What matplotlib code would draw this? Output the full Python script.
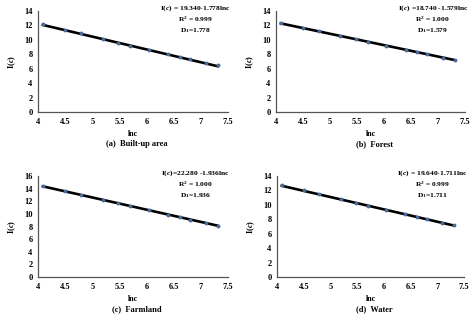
import matplotlib
matplotlib.use("Agg")
import matplotlib.pyplot as plt
import numpy as np

plt.rcParams['font.family'] = ['Liberation Serif', 'DejaVu Serif']
plt.rcParams['font.weight'] = 'bold'
plt.rcParams['mathtext.fontset'] = 'custom'
plt.rcParams['mathtext.rm'] = 'Liberation Serif:bold'
plt.rcParams['mathtext.it'] = 'Liberation Serif:italic:bold'
plt.rcParams['mathtext.bf'] = 'Liberation Serif:bold'

lnc = [4.09, 4.50, 4.79, 5.19, 5.48, 5.70, 6.04, 6.40, 6.62, 6.80, 7.09, 7.31]

built_up = [12.2, 11.4, 10.9, 10.15, 9.6, 9.2, 8.6, 8.0, 7.6, 7.3, 6.8, 6.45]
forest = [12.35, 11.7, 11.2, 10.6, 10.1, 9.75, 9.2, 8.65, 8.3, 8.0, 7.55, 7.25]
farmland = [14.4, 13.6, 13.05, 12.25, 11.7, 11.25, 10.6, 9.9, 9.45, 9.1, 8.55, 8.15]
water = [12.7, 12.0, 11.45, 10.8, 10.3, 9.9, 9.35, 8.7, 8.35, 8.0, 7.55, 7.15]

intercepts = [19.340, 18.740, 22.280, 19.640]
slopes = [1.778, 1.579, 1.936, 1.711]
r2 = ["0.999", "1.000", "1.000", "0.999"]
eq_text = ["I($c$) = 19.340-1.778lnc", "I($c$) =18.740 -1.579lnc",
           "I($c$)=22.280 -1.936lnc", "I($c$) = 19.640-1.711lnc"]
captions = ["(a)  Built-up area", "(b)  Forest", "(c)  Farmland", "(d)  Water"]
ymax = [14, 14, 16, 14]
series = [built_up, forest, farmland, water]

fig = plt.figure(figsize=(4.74, 3.23), dpi=100)
W, H = 474, 323
boxes = [(38, 228, 11, 112), (276, 465, 11, 112), (38, 228, 176, 277), (277, 464, 176, 277)]

for i in range(4):
    l, r, t, b = boxes[i]
    ax = fig.add_axes([l / W, 1 - b / H, (r - l) / W, (b - t) / H])
    ax.plot(lnc, series[i], 'o', color='#4a6a9a', markersize=1.8, zorder=3)
    xx = np.array([lnc[0], lnc[-1]])
    ax.plot(xx, intercepts[i] - slopes[i] * xx, color='black', lw=1.9, zorder=2)
    ax.set_xlim(4, 7.5)
    ax.set_ylim(0, ymax[i])
    ax.set_xticks([4, 4.5, 5, 5.5, 6, 6.5, 7, 7.5])
    ax.set_xticklabels(['4', '4.5', '5', '5.5', '6', '6.5', '7', '7.5'], fontweight='bold')
    ax.set_yticks(range(0, ymax[i] + 1, 2))
    for lab in ax.get_yticklabels():
        lab.set_fontweight('bold')
    for s in ['top', 'right']:
        ax.spines[s].set_visible(False)
    for s in ['left', 'bottom']:
        ax.spines[s].set_color('#555555')
        ax.spines[s].set_linewidth(0.9)
    ax.tick_params(labelsize=6, length=0, pad=4)
    ax.set_ylabel('I($c$)', fontsize=6, labelpad=4, fontweight='bold')
    ax.annotate('lnc', xy=(0.5, 0), xycoords='axes fraction', xytext=(0, -22),
                textcoords='offset pixels', ha='center', va='center', fontsize=5.8,
                fontweight='bold')
    ax.annotate(captions[i], xy=(0.52, 0), xycoords='axes fraction', xytext=(0, -32),
                textcoords='offset pixels', ha='center', va='center', fontsize=6,
                fontweight='bold')
    ax.text(0.83, 0.92, eq_text[i] + '\nR$^2$ = ' + r2[i] + '\nD$_1$=' + f"{slopes[i]:.3f}",
            transform=ax.transAxes, ha='center', va='center', fontsize=5.4,
            linespacing=1.3, fontweight='bold')

fig.savefig('out.png', dpi=100)
